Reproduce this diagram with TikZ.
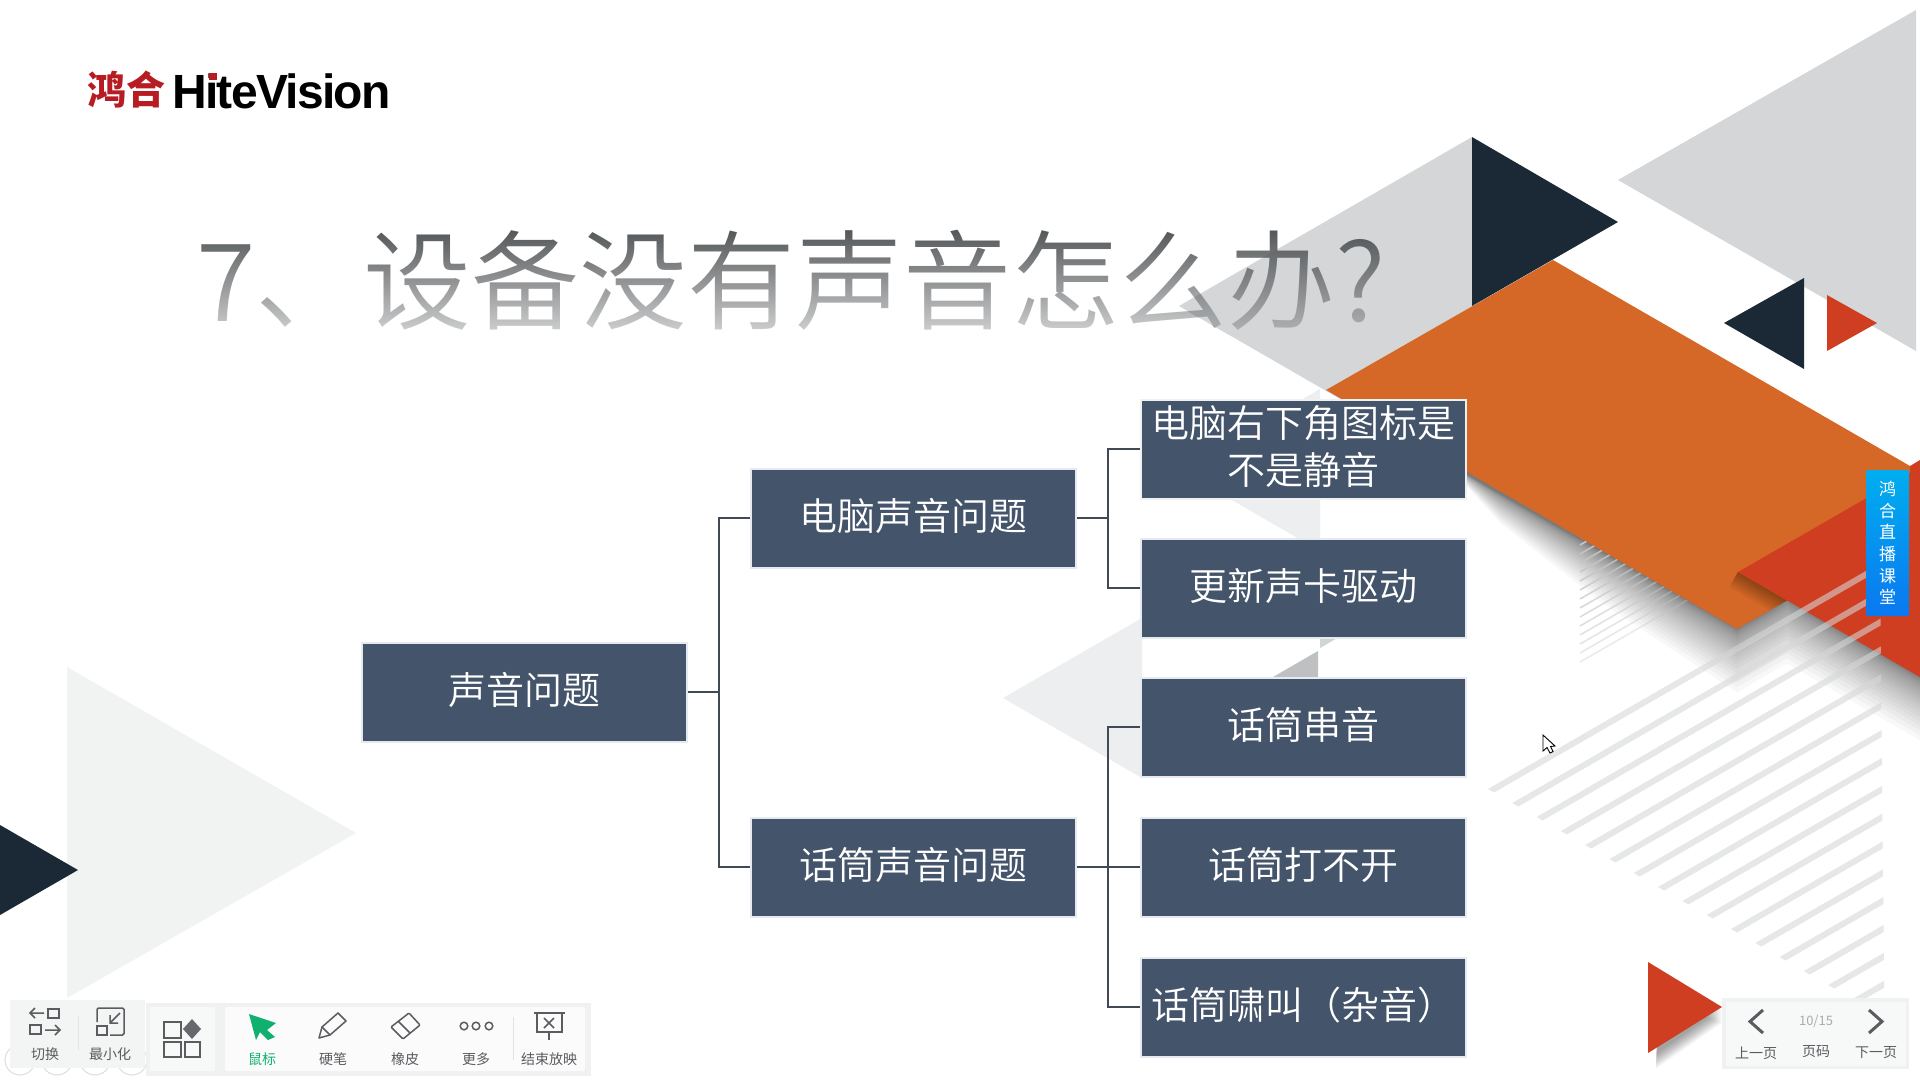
\documentclass[tikz,border=0pt]{standalone}
\usepackage{fontspec}
\setmainfont{Noto Sans CJK SC}
\newfontfamily\thinfont{Noto Sans CJK SC DemiLight}
\newfontfamily\logofont[LetterSpace=-3.5]{Liberation Sans}
\usetikzlibrary{fadings}
\definecolor{boxfill}{HTML}{44546A}
\definecolor{boxedge}{HTML}{E6E9EF}
\definecolor{linkgray}{HTML}{404955}
\definecolor{navy}{HTML}{1B2936}
\definecolor{orangeband}{HTML}{D66827}
\definecolor{redband}{HTML}{D03E22}
\definecolor{midgray}{HTML}{D4D6D8}
\definecolor{lightgray}{HTML}{EDEEEF}
\definecolor{palegray}{HTML}{F1F2F2}
\definecolor{darkwedge}{HTML}{BEC0C2}
\definecolor{wedgegray}{HTML}{D0D6D6}
\definecolor{hatchgray}{HTML}{C4C6C6}
\definecolor{stripegray}{HTML}{D5D6D6}
\definecolor{ringgray}{HTML}{DDDDDD}
\definecolor{panelone}{HTML}{F0F1F1}
\definecolor{paneltwo}{HTML}{F7F8F8}
\definecolor{panelthree}{HTML}{F3F4F4}
\definecolor{panelfour}{HTML}{FBFBFB}
\definecolor{rulegray}{HTML}{E2E3E3}
\definecolor{shapegray}{HTML}{66686E}
\definecolor{titlegray}{HTML}{4F5254}
\definecolor{countgray}{HTML}{A9ABAD}
\definecolor{tabtop}{HTML}{00AEEF}
\definecolor{tabbottom}{HTML}{0A78F0}
\definecolor{toolgray}{HTML}{5A5C60}
\definecolor{logored}{HTML}{B81C23}
\definecolor{mintgreen}{HTML}{10B06F}
\tikzfading[name=titlefade, top color=transparent!100, bottom color=transparent!25]
\tikzset{
  qbox/.style={draw=boxedge, line width=2, fill=boxfill, text=white, inner sep=0,
    minimum width=325, minimum height=99, align=center, text depth=7.5pt,
    font=\fontsize{38}{46.5}\thinfont\selectfont},
  link/.style={draw=linkgray, line width=2.4},
  toollabel/.style={text=toolgray, inner sep=0, font=\fontsize{14}{16}\selectfont},
  icon/.style={draw=toolgray, line width=1.5},
}
\begin{document}
\begin{tikzpicture}[x=1pt, y=-1pt]
  \useasboundingbox (0,0) rectangle (1920,1080);
  \fill[white] (0,0) rectangle (1920,1080);

  % background triangles
  \fill[midgray] (1472,137) -- (1179,306) -- (1472,475) -- cycle;
  \fill[midgray] (1618,180) -- (1916,10) -- (1916,351) -- cycle;
  \fill[lightgray] (1320,389) -- (1180,470) -- (1320,551) -- cycle;
  \fill[lightgray] (1003,698) -- (1142,618) -- (1142,778) -- cycle;
  \fill[darkwedge] (1273,677) -- (1318,651) -- (1318,700) -- cycle;
  \fill[wedgegray] (1320,648) -- (1372,618) -- (1320,618) -- cycle;
  \fill[palegray] (67,667) -- (356,833) -- (67,998) -- cycle;
  \fill[navy] (0,825) -- (78,870) -- (0,915) -- cycle;
  \fill[navy] (1724,323) -- (1804,278) -- (1804,369) -- cycle;
  \fill[redband] (1827,295) -- (1877,323) -- (1827,351) -- cycle;

  % shadow under the band
  \foreach \r in {1,...,24}
    \fill[black, opacity=.026, shift={(0,0)}] (1445,462) -- (1553,400) -- (1920,600)
      -- (1920,677+.11*\r*\r) -- (1787,600+.11*\r*\r) -- (1737,629+.11*\r*\r)
      -- (1600,551+.088*\r*\r) -- (1500,494+.05*\r*\r) -- cycle;

  % thin hatch
  \foreach \k in {0,...,13}
    \draw[hatchgray, line width=1.6, opacity=1-.05*\k]
      (1580,545+9*\k) -- (1590+9*\k,545+9*\k-.577*10-.577*9*\k);

  % band
  \fill[orangeband] (1326,390) -- (1553,260) -- (1910,466) -- (1910,530) -- (1737,629) -- cycle;
  \begin{scope}
    \clip (1326,390) -- (1553,260) -- (1910,466) -- (1910,530) -- (1737,629) -- cycle;
    \foreach \d in {1,2,...,18}
      \fill[black, opacity=.02] (1738,572) -- (1800,608) -- (1800-.5*\d,608+.866*\d)
        -- (1738-.5*\d,572+.866*\d) -- cycle;
  \end{scope}
  \fill[redband] (1738,572) -- (1910,473) -- (1910,466) -- (1920,460) -- (1920,677) -- cycle;
  \fill[navy] (1472,137) -- (1618,222) -- (1472,306) -- cycle;

  % wide stripes
  \foreach \k in {0,...,15}{
    \pgfmathsetmacro{\sx}{1488+24.3*\k}
    \pgfmathsetmacro{\sy}{789+14*\k}
    \pgfmathsetmacro{\ex}{1880+.27*\k}
    \fill[stripegray, opacity=.58] (\sx,\sy) -- (\sx+6,\sy+3.5)
      -- (\ex,{\sy+3.5-(\ex-\sx-6)*.577}) -- (\ex,{\sy-(\ex-\sx)*.577}) -- cycle;
  }

  % red triangle
  \foreach \d in {1,2,...,20}
    \fill[black, opacity=.018] (1660,1000) -- (1722,1007+.8*\d) -- (1656,1053+.8*\d) -- cycle;
  \fill[redband] (1648,962) -- (1722,1007) -- (1648,1053) -- cycle;

  % logo
  \node[text=logored, inner sep=0, anchor=west, font=\fontsize{39}{39}\bfseries\selectfont] (logocn) at (87,90) {鸿合};
  \node[text=black, inner sep=0, anchor=west, font=\fontsize{48}{48}\logofont\bfseries\selectfont] (logoen) at (172,91) {HiteVision};
  \fill[logored] (209,73) rectangle (217,80);

  % title, washed out towards its foot
  \node[text=titlegray, inner sep=0, anchor=west, font=\fontsize{108}{108}\thinfont\selectfont] (title) at (196,280) {7、设备没有声音怎么办?};
  \begin{scope}
    \clip (180,225) -- (1319,225) -- (1179,306) -- (1230,336) -- (180,336) -- cycle;
    \fill[white, path fading=titlefade] (180,225) rectangle (1420,336);
  \end{scope}
  \begin{scope}
    \clip (1472,137) -- (1179,306) -- (1472,475) -- cycle;
    \fill[midgray, path fading=titlefade] (180,225) rectangle (1420,336);
  \end{scope}

  % tree
  \node[qbox] (root) at (524.5,692) {声音问题};
  \node[qbox] (pc) at (913.5,518) {电脑声音问题};
  \node[qbox] (mic) at (913.5,867) {话筒声音问题};
  \node[qbox, draw=white!94!black] (mute) at (1303.5,449) {电脑右下角图标是\\不是静音};
  \node[qbox] (driver) at (1303.5,588) {更新声卡驱动};
  \node[qbox] (cross) at (1303.5,727) {话筒串音};
  \node[qbox] (open) at (1303.5,867) {话筒打不开};
  \node[qbox] (howl) at (1303.5,1007) {话筒啸叫（杂音）};

  \coordinate (trunk) at (719,692);
  \coordinate (pctrunk) at (1108,518);
  \coordinate (mictrunk) at (1108,867);
  \draw[link] (root.east) -- (trunk);
  \draw[link] (trunk) |- (pc.west);
  \draw[link] (trunk) |- (mic.west);
  \draw[link] (pc.east) -- (pctrunk);
  \draw[link] (pctrunk) |- (mute.west);
  \draw[link] (pctrunk) |- (driver.west);
  \draw[link] (mic.east) -- (open.west);
  \draw[link] (mictrunk) |- (cross.west);
  \draw[link] (mictrunk) |- (howl.west);

  % side tab
  \node[inner sep=0, minimum width=43, minimum height=146, rounded corners=2,
    top color=tabtop, bottom color=tabbottom, text=white, align=center,
    font=\fontsize{17}{21.6}\selectfont] (tab) at (1887.5,543) {鸿\\合\\直\\播\\课\\堂};

  % mouse pointer
  \draw[fill=white, draw=black, line width=.9] (1543,735) -- (1543,751) -- (1547,747.5)
    -- (1550,753) -- (1553,751.5) -- (1550.5,746.5) -- (1555,746) -- cycle;

  % left tool panels
  \foreach \c in {20,57,95,132}
    \draw[ringgray, line width=1] (\c,1060) circle (15);
  \fill[panelthree] (10,1000) rectangle (145,1068);
  \fill[panelone] (146,1003) rectangle (591,1076);
  \fill[paneltwo] (150,1007) rectangle (215,1071);
  \fill[panelfour, rounded corners=2] (225,1007) rectangle (585,1071);
  \draw[rulegray, line width=1] (78,1016) -- (78,1050);
  \draw[rulegray, line width=1] (513,1017) -- (513,1060);

  % switch icon
  \draw[icon] (44,1013) -- (30,1013) (35,1008) -- (30,1013) -- (35,1018);
  \draw[icon] (48,1009) rectangle (59,1018);
  \draw[icon] (30,1025) rectangle (41,1034);
  \draw[icon] (45,1030) -- (60,1030) (55,1025) -- (60,1030) -- (55,1035);
  % minimize icon
  \draw[icon, rounded corners=1.5] (97,1022) -- (97,1008) -- (124,1008) -- (124,1035) -- (110,1035);
  \draw[icon] (97,1026) rectangle (107,1035);
  \draw[icon] (120,1013) -- (110,1023) (110,1015) -- (110,1023) -- (118,1023);
  % shapes icon
  \draw[icon] (164,1022) rectangle (181,1038);
  \fill[shapegray] (192,1019) -- (201,1029) -- (192,1039) -- (183,1029) -- cycle;
  \draw[icon] (164,1042) rectangle (181,1057);
  \draw[icon] (185,1042) rectangle (200,1057);
  % pointer icon
  \fill[mintgreen] (249,1014) -- (276,1023) -- (267,1030) -- (275,1037) -- (268,1040)
    -- (260,1032) -- (256,1040) -- cycle;
  % pen icon
  \draw[icon, line join=round] (319,1038) -- (322,1027) -- (338,1013) -- (346,1021) -- (330,1035) -- cycle;
  \draw[icon] (322,1027) -- (330,1035);
  % eraser icon
  \draw[icon, rounded corners=1] (391,1027) -- (409,1013) -- (420,1025) -- (403,1039) -- cycle;
  \draw[icon] (398,1021) -- (410,1033);
  % more icon
  \foreach \c in {464,476,489}
    \draw[icon] (\c,1026) circle (3.8);
  % end show icon
  \draw[icon] (534,1013) -- (565,1013);
  \draw[icon] (537,1013) -- (537,1032) -- (562,1032) -- (562,1013);
  \draw[icon] (544,1018) -- (554,1028) (554,1018) -- (544,1028);
  \draw[icon] (549,1032) -- (549,1040);

  \node[toollabel] (switchlabel) at (45,1054) {切换};
  \node[toollabel] (minlabel) at (110,1054) {最小化};
  \node[toollabel, text=mintgreen] (mouselabel) at (262,1059) {鼠标};
  \node[toollabel] (penlabel) at (333,1059) {硬笔};
  \node[toollabel] (eraserlabel) at (405,1059) {橡皮};
  \node[toollabel] (morelabel) at (476,1059) {更多};
  \node[toollabel] (endlabel) at (549,1059) {结束放映};

  % page panel
  \fill[panelone] (1722,998) rectangle (1909,1069);
  \fill[paneltwo] (1726,1002) rectangle (1906,1066);
  \draw[toolgray, line width=3] (1763,1010) -- (1750,1021.5) -- (1763,1033);
  \draw[toolgray, line width=3] (1869,1010) -- (1882,1021.5) -- (1869,1033);
  \node[toollabel, text=countgray, font=\fontsize{13}{15}\selectfont] (pagecount) at (1816,1021) {10/15};
  \node[toollabel] (prevlabel) at (1756,1053) {上一页};
  \node[toollabel] (pagelabel) at (1816,1052) {页码};
  \node[toollabel] (nextlabel) at (1876,1053) {下一页};
\end{tikzpicture}
\end{document}
